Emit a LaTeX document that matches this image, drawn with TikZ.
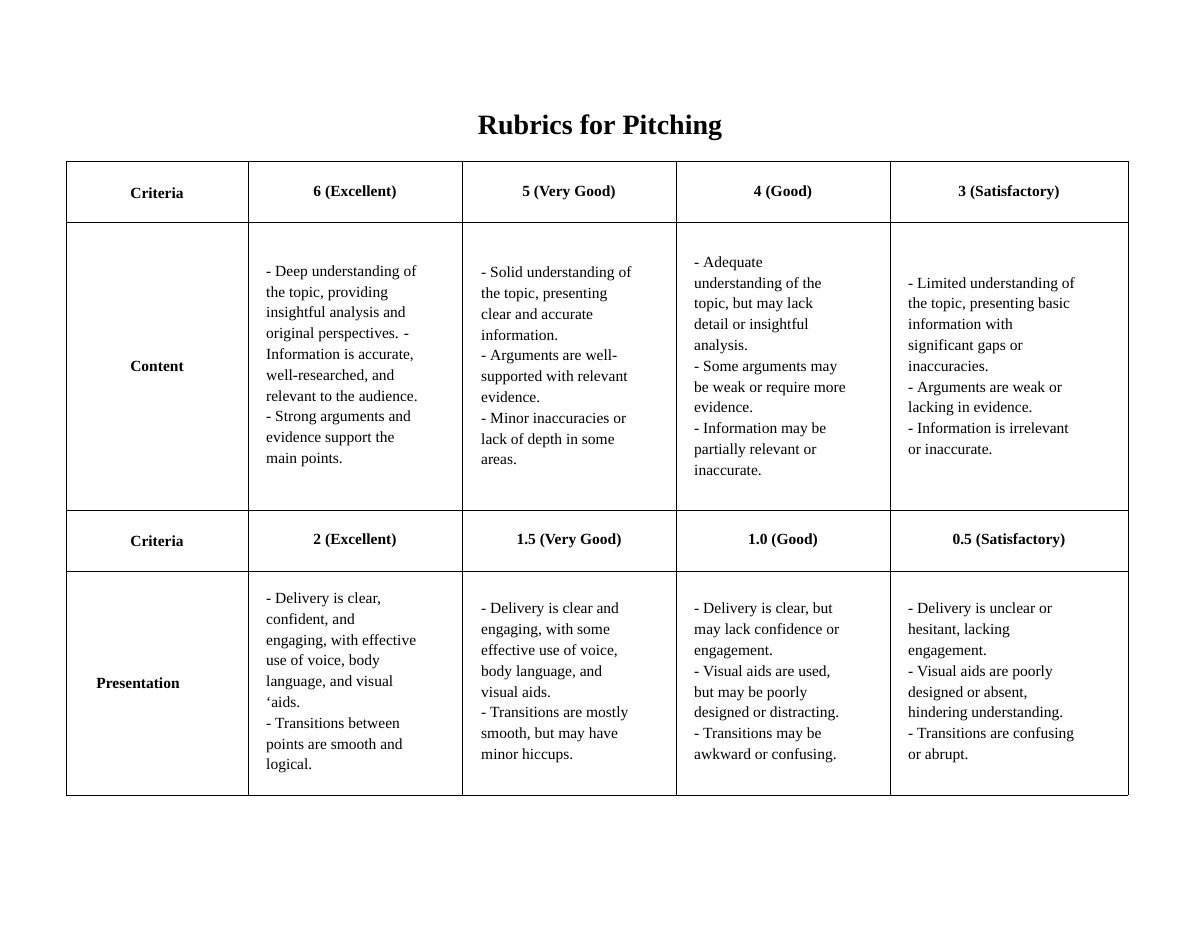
\documentclass[tikz,border=0pt]{standalone}
\usepackage{fontspec}
\setmainfont{Liberation Serif}
\begin{document}
\begin{tikzpicture}[x=1pt,y=-1pt,
  cell/.style={anchor=west,align=left,inner sep=0pt,font=\fontsize{15.5}{20.8}\selectfont},
  head/.style={anchor=center,inner sep=0pt,font=\fontsize{15.5}{20.8}\selectfont\bfseries},
  grid/.style={line width=0.8pt}]
\useasboundingbox (0,0) rectangle (1200,927);
\node[font=\fontsize{28}{32}\selectfont\bfseries] (title) at (600,128) {Rubrics for Pitching};
% grid
\foreach \x in {66,248,462,676,890,1128} \draw[grid] (\x,161) -- (\x,795);
\foreach \y in {161,222,510,571,795} \draw[grid] (66,\y) -- (1128,\y);
% header row 1
\node[head] (h1a) at (157,193) {Criteria};
\node[head] (h1b) at (355,193) {6 (Excellent)};
\node[head] (h1c) at (569,193) {5 (Very Good)};
\node[head] (h1d) at (783,193) {4 (Good)};
\node[head] (h1e) at (1009,193) {3 (Satisfactory)};
\node[head] (c1) at (157,366) {Content};
\node[cell] (c1b) at (266,366) {- Deep understanding of\\the topic, providing\\insightful analysis and\\original perspectives. -\\Information is accurate,\\well-researched, and\\relevant to the audience.\\- Strong arguments and\\evidence support the\\main points.};
\node[cell] (c1c) at (481,366) {- Solid understanding of\\the topic, presenting\\clear and accurate\\information.\\- Arguments are well-\\supported with relevant\\evidence.\\- Minor inaccuracies or\\lack of depth in some\\areas.};
\node[cell] (c1d) at (694,366) {- Adequate\\understanding of the\\topic, but may lack\\detail or insightful\\analysis.\\- Some arguments may\\be weak or require more\\evidence.\\- Information may be\\partially relevant or\\inaccurate.};
\node[cell] (c1e) at (908,366) {- Limited understanding of\\the topic, presenting basic\\information with\\significant gaps or\\inaccuracies.\\- Arguments are weak or\\lacking in evidence.\\- Information is irrelevant\\or inaccurate.};
% header row 2
\node[head] (h2a) at (157,541) {Criteria};
\node[head] (h2b) at (355,541) {2 (Excellent)};
\node[head] (h2c) at (569,541) {1.5 (Very Good)};
\node[head] (h2d) at (783,541) {1.0 (Good)};
\node[head] (h2e) at (1009,541) {0.5 (Satisfactory)};
\node[head] (c2) at (138,683) {Presentation};
\node[cell] (c2b) at (266,683) {- Delivery is clear,\\confident, and\\engaging, with effective\\use of voice, body\\language, and visual\\`aids.\\- Transitions between\\points are smooth and\\logical.};
\node[cell] (c2c) at (481,683) {- Delivery is clear and\\engaging, with some\\effective use of voice,\\body language, and\\visual aids.\\- Transitions are mostly\\smooth, but may have\\minor hiccups.};
\node[cell] (c2d) at (694,683) {- Delivery is clear, but\\may lack confidence or\\engagement.\\- Visual aids are used,\\but may be poorly\\designed or distracting.\\- Transitions may be\\awkward or confusing.};
\node[cell] (c2e) at (908,683) {- Delivery is unclear or\\hesitant, lacking\\engagement.\\- Visual aids are poorly\\designed or absent,\\hindering understanding.\\- Transitions are confusing\\or abrupt.};
\end{tikzpicture}
\end{document}
